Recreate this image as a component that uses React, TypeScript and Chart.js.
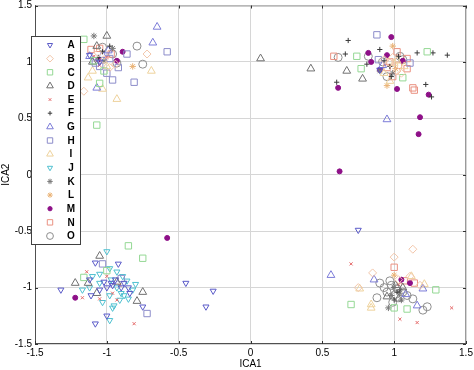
import React, { useEffect, useRef } from "react";
import { Chart, registerables } from "chart.js";
import { drawPoint } from "chart.js/helpers";

Chart.register(...registerables);

const SERIES_NAMES = ["A", "B", "C", "D", "E", "F", "G", "H", "I", "J", "K", "L", "M", "N", "O"];
const AXIS_TICKS = [-1.5, -1, -0.5, 0, 0.5, 1, 1.5];

const PTS_A = [[-1.12, 1.06], [-1.05, 1.0], [-1.08, -0.78], [-0.92, -0.79], [-1.32, -1.02], [-0.96, -0.98], [-0.85, -1.0], [-0.75, -1.17], [-0.45, -0.96], [-0.26, -1.03], [-0.31, -1.17], [-1.08, -1.32], [-1.0, -1.25], [-1.05, -1.02], [-1.02, -0.95], [-0.94, -0.93], [-1.11, -1.07], [-0.88, -0.96], [0.75, -0.49], [0.9, 0.93], [-1.0, -1.0], [-0.97, -0.96], [-0.9, -1.0], [-1.12, -0.93], [-0.84, -1.05]];
const PTS_B = [[-0.72, 1.07], [-1.16, 0.74], [-1.02, 1.02], [-0.98, 0.95], [-1.06, 1.08], [-0.94, 0.98], [0.97, 0.99], [1.02, 0.92], [0.93, 1.02], [0.99, 1.04], [1.05, 0.9], [1.13, -0.66], [1.0, -0.73], [0.85, -0.87], [0.75, -1.0], [1.11, -0.9], [1.18, -0.98], [1.03, -0.93]];
const PTS_C = [[-1.07, 0.44], [-1.16, 1.2], [-1.05, 0.81], [-1.09, 1.01], [-1.02, 0.92], [0.74, 1.05], [0.77, 0.94], [1.06, 0.86], [1.23, 1.09], [-0.85, -0.63], [-0.75, -0.74], [-1.16, -0.91], [-1.0, -0.85], [0.7, -1.15], [1.09, -1.19], [1.0, -1.18], [1.29, -1.02]];
const PTS_D = [[-1.0, 1.23], [-1.07, 1.14], [-1.1, 1.0], [0.07, 1.03], [0.42, 0.94], [0.67, 0.92], [0.78, 0.85], [-1.05, -0.72], [-1.22, -0.96], [-1.13, -0.96], [-0.75, -1.04], [-0.79, -1.12], [-1.07, -1.05], [-0.93, -0.95], [1.03, -1.1], [1.01, -0.98], [1.06, -1.0], [0.95, -1.08]];
const PTS_E = [[-1.09, 1.05], [-1.0, 1.04], [-1.05, 0.97], [-1.14, -0.86], [-1.0, -0.9], [-1.17, -1.09], [-0.81, -1.32], [-0.93, -1.11], [-0.91, -0.98], [-0.96, -1.05], [-1.05, -1.1], [0.7, -0.79], [1.4, -1.18], [1.04, -1.28], [1.16, -1.31], [1.03, -0.97]];
const PTS_F = [[-1.03, 1.09], [-0.98, 1.14], [-1.06, 1.04], [0.68, 1.19], [0.66, 1.07], [0.6, 0.82], [0.81, 0.98], [1.16, 1.08], [1.27, 1.08], [1.37, 1.06], [1.22, 0.8], [1.26, 0.69], [0.9, 1.11], [0.98, 0.87], [0.93, 1.01], [0.97, 0.96], [1.03, 1.05], [1.04, -1.02], [1.0, -1.11], [1.02, -1.04]];
const PTS_G = [[-0.65, 1.31], [-0.68, 1.17], [-1.07, 0.77], [-1.12, 1.05], [-1.03, 1.06], [-0.99, 1.1], [0.95, 0.49], [0.92, 0.97], [0.56, -0.89], [0.86, -0.93], [1.2, -1.01], [1.16, -1.16], [1.08, -1.06]];
const PTS_H = [[-0.58, 1.09], [-0.86, 1.07], [-0.96, 0.84], [-0.81, 0.82], [-1.05, 0.96], [-1.0, 0.9], [-0.98, 1.03], [-1.08, 0.99], [-0.92, 0.95], [0.88, 1.24], [1.11, 0.99], [0.89, 1.02], [-1.03, -0.79], [-0.72, -1.23], [-0.9, -0.92]];
const PTS_I = [[-0.69, 0.92], [-1.03, 0.76], [-0.93, 0.67], [-1.13, 0.86], [-1.1, 0.92], [-1.0, 0.96], [1.0, 0.99], [0.97, 0.83], [1.02, 1.01], [0.93, 0.9], [1.07, 0.96], [1.21, -0.97], [0.84, -1.18], [0.84, -1.15], [0.76, -1.01], [1.12, -0.9]];
const PTS_J = [[-1.0, -0.68], [-0.93, -0.86], [-0.82, -1.02], [-0.95, -1.16], [-0.98, -1.29], [-1.17, -1.02], [-0.98, -0.83], [-0.88, -1.07], [-0.91, -1.11], [-1.05, -0.96], [-0.86, -0.94], [-1.1, -0.9], [-1.05, -0.88], [-0.97, -0.93], [-0.93, -1.0], [-0.9, -1.05], [-0.98, -1.07], [-0.85, -1.1], [-1.03, -1.13], [-0.96, -1.18], [-0.89, -0.9], [-1.12, -1.0], [-0.8, -0.97]];
const PTS_K = [[-1.09, 1.23], [-1.02, 1.01], [-0.96, 1.12], [0.9, 0.92], [0.99, 0.9], [1.04, -1.05], [0.96, -1.18], [1.05, -1.11], [1.0, -1.0], [0.98, -1.07]];
const PTS_L = [[-0.82, 0.96], [0.95, 0.79], [0.99, 1.14], [1.01, 0.94], [1.0, -0.89]];
const PTS_M = [[-0.89, 1.09], [-0.93, 1.01], [-1.06, 1.02], [0.61, 0.77], [0.98, 1.22], [0.82, 1.08], [0.84, 1.0], [0.9, 0.93], [0.95, 1.06], [1.02, 0.76], [1.06, 1.01], [1.24, 0.71], [1.18, 0.51], [1.17, 0.36], [0.62, 0.03], [-0.58, -0.56], [-1.22, -1.09], [1.05, -0.93], [1.11, -0.96]];
const PTS_N = [[-1.11, 1.11], [-0.97, 1.07], [-1.05, 1.12], [0.58, 1.05], [0.99, 0.87], [1.09, 1.03], [1.09, 0.94], [1.13, 0.77], [1.14, 0.75], [1.02, 1.09], [0.97, 1.0], [1.03, 0.97], [0.95, 0.95], [1.0, -0.82], [1.14, -0.96], [1.07, -0.94]];
const PTS_O = [[-0.79, 1.14], [-0.75, 0.98], [-0.96, 1.07], [-0.93, 0.99], [-1.03, 1.13], [0.61, 1.04], [0.82, 1.05], [0.95, 0.87], [1.04, 1.05], [0.92, 1.0], [1.06, 1.02], [0.9, -0.96], [0.95, -1.04], [0.88, -1.09], [1.02, -1.01], [1.09, -1.07], [1.23, -1.17], [1.2, -1.2], [0.97, -0.94], [0.98, -0.98], [1.01, -1.06], [0.93, -1.0], [1.06, -1.04], [0.99, -1.13], [1.13, -1.1]];

const SERIES_POINTS = [PTS_A, PTS_B, PTS_C, PTS_D, PTS_E, PTS_F, PTS_G, PTS_H, PTS_I, PTS_J, PTS_K, PTS_L, PTS_M, PTS_N, PTS_O];

type Style = { shape: string; rot: number; r: number; color: string; filled: boolean };
const STYLES: Style[] = [
  { shape: "triangle", rot: 180, r: 3.5, color: "#5a5ac8", filled: false },
  { shape: "rectRot", rot: 0, r: 4, color: "#f2c6aa", filled: false },
  { shape: "rect", rot: 0, r: 4.5, color: "#94d894", filled: false },
  { shape: "triangle", rot: 0, r: 4.5, color: "#707070", filled: false },
  { shape: "crossRot", rot: 0, r: 2.2, color: "#e46a6a", filled: false },
  { shape: "cross", rot: 0, r: 2.6, color: "#3a3a3a", filled: false },
  { shape: "triangle", rot: 0, r: 4.5, color: "#7c7cd8", filled: false },
  { shape: "rect", rot: 0, r: 4.5, color: "#8c8cca", filled: false },
  { shape: "triangle", rot: 0, r: 4.5, color: "#eed29c", filled: false },
  { shape: "triangle", rot: 180, r: 3.5, color: "#4ec0d0", filled: false },
  { shape: "star", rot: 0, r: 3.2, color: "#7a7a7a", filled: false },
  { shape: "star", rot: 0, r: 3.2, color: "#eab274", filled: false },
  { shape: "circle", rot: 0, r: 2.5, color: "#8e1088", filled: true },
  { shape: "rect", rot: 0, r: 4.5, color: "#ea9282", filled: false },
  { shape: "circle", rot: 0, r: 4, color: "#8e8e8e", filled: false },
];

const FONT = "'Liberation Sans', Arial, sans-serif";

const framePlugin = {
  id: "frameLegend",
  afterDraw(chart: any) {
    const ctx = chart.ctx;
    const { left, right, top, bottom } = chart.chartArea;
    const xs = chart.scales.x;
    const ys = chart.scales.y;
    ctx.save();
    ctx.lineWidth = 1;
    ctx.strokeStyle = "#9a9a9a";
    ctx.beginPath();
    ctx.moveTo(left, top + 0.5);
    ctx.lineTo(right, top + 0.5);
    ctx.moveTo(right - 0.5, top);
    ctx.lineTo(right - 0.5, bottom);
    ctx.stroke();
    ctx.strokeStyle = "#505050";
    ctx.beginPath();
    ctx.moveTo(left + 0.5, top);
    ctx.lineTo(left + 0.5, bottom);
    ctx.moveTo(left, bottom - 0.5);
    ctx.lineTo(right, bottom - 0.5);
    ctx.stroke();
    ctx.strokeStyle = "#303030";
    ctx.beginPath();
    for (const t of AXIS_TICKS) {
      const px = Math.round(xs.getPixelForValue(t)) + 0.5;
      ctx.moveTo(px, bottom);
      ctx.lineTo(px, bottom - 3);
      ctx.moveTo(px, top);
      ctx.lineTo(px, top + 3);
      const py = Math.round(ys.getPixelForValue(t)) + 0.5;
      ctx.moveTo(left, py);
      ctx.lineTo(left + 3, py);
      ctx.moveTo(right, py);
      ctx.lineTo(right - 3, py);
    }
    ctx.stroke();
    const lx = 31, ly = 36, lw = 49, lh = 208;
    ctx.fillStyle = "#ffffff";
    ctx.fillRect(lx, ly, lw, lh);
    ctx.strokeStyle = "#404040";
    ctx.strokeRect(lx + 0.5, ly + 0.5, lw, lh);
    const step = (236 - 45) / 14;
    ctx.font = "bold 10px " + FONT;
    ctx.textBaseline = "middle";
    ctx.textAlign = "center";
    SERIES_NAMES.forEach((name, i) => {
      const y = 45 + i * step;
      const st = STYLES[i];
      ctx.save();
      ctx.strokeStyle = st.color;
      ctx.fillStyle = st.filled ? st.color : "rgba(0,0,0,0)";
      ctx.lineWidth = 1;
      drawPoint(ctx, { pointStyle: st.shape, rotation: st.rot, radius: st.r * 0.85, borderWidth: 1 } as any, 50, y);
      ctx.restore();
      ctx.fillStyle = "#000000";
      ctx.fillText(name, 71, y + 0.5);
    });
    ctx.restore();
  },
};

export default function App() {
  const ref = useRef<HTMLCanvasElement | null>(null);
  useEffect(() => {
    if (!ref.current) return;
    const datasets = SERIES_NAMES.map((name, i) => {
      const st = STYLES[i];
      return {
        label: name,
        data: SERIES_POINTS[i].map(([x, y]) => ({ x, y })),
        pointStyle: st.shape,
        rotation: st.rot,
        pointRadius: st.r,
        pointBorderWidth: 1,
        borderColor: st.color,
        pointBorderColor: st.color,
        backgroundColor: st.filled ? st.color : "rgba(0,0,0,0)",
        pointBackgroundColor: st.filled ? st.color : "rgba(0,0,0,0)",
        showLine: false,
      };
    });
    const tickCfg = {
      stepSize: 0.5,
      color: "#000000",
      font: { family: FONT, size: 10 },
      callback: (v: any) => String(Math.round(Number(v) * 10) / 10),
    };
    const chart = new Chart(ref.current, {
      type: "scatter",
      data: { datasets },
      plugins: [framePlugin],
      options: {
        animation: false,
        responsive: false,
        devicePixelRatio: 1,
        layout: { padding: { left: 0, top: 4, right: 8, bottom: 0 } },
        plugins: { legend: { display: false }, tooltip: { enabled: false } },
        scales: {
          x: {
            type: "linear",
            min: -1.5,
            max: 1.5,
            ticks: { ...tickCfg, padding: 3, maxRotation: 0 },
            grid: { color: "#d6d6d6", drawTicks: false },
            border: { display: false },
            title: { display: true, text: "ICA1", color: "#000", font: { family: FONT, size: 10 }, padding: { top: 0, bottom: 0 } },
            afterFit: (s: any) => {
              s.height = 26;
              s.paddingLeft = 0;
              s.paddingRight = 0;
            },
          },
          y: {
            type: "linear",
            min: -1.5,
            max: 1.5,
            ticks: { ...tickCfg, padding: 3 },
            grid: { color: "#d6d6d6", drawTicks: false },
            border: { display: false },
            title: { display: true, text: "ICA2", color: "#000", font: { family: FONT, size: 10 }, padding: { top: 0, bottom: 0 } },
            afterFit: (s: any) => {
              s.width = 35;
              s.paddingTop = 0;
              s.paddingBottom = 0;
            },
          },
        },
      } as any,
    });
    return () => chart.destroy();
  }, []);
  return (
    <div style={{ position: "fixed", left: 0, top: 0, width: 474, height: 370, background: "#fff" }}>
      <canvas ref={ref} width={474} height={370} style={{ width: 474, height: 370, display: "block" }} />
    </div>
  );
}
